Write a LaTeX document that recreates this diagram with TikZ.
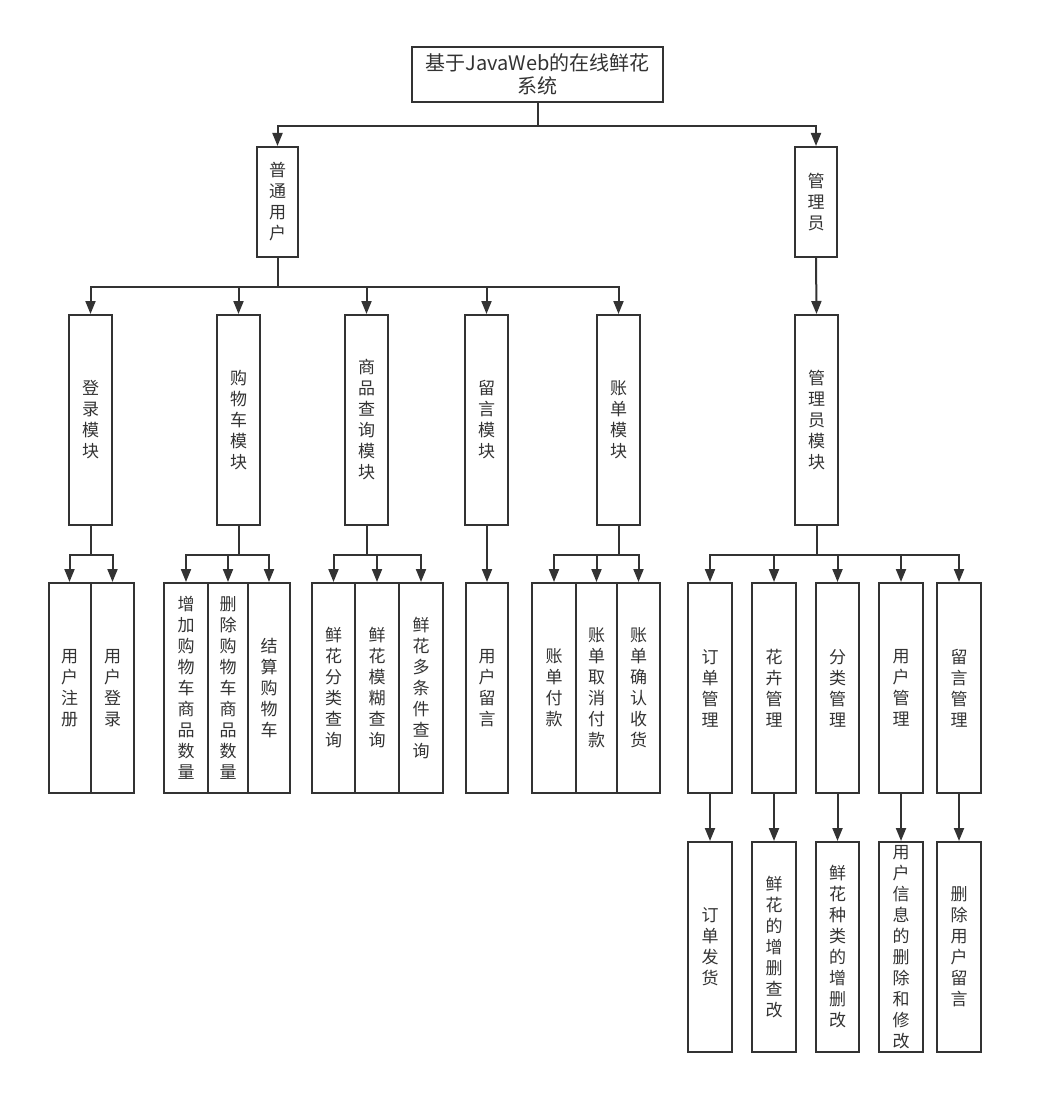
\documentclass[tikz,border=0pt]{standalone}
\usepackage{fontspec}
\setmainfont{Noto Sans CJK SC}
\usetikzlibrary{arrows.meta}
\definecolor{ink}{HTML}{333333}
\tikzset{every node/.style={font=\fontsize{17}{21}\selectfont,text=ink}}
\tikzstyle{blk}=[draw=ink,line width=2pt,inner sep=0pt,align=center,text width=18pt]
\tikzstyle{mod}=[blk,minimum height=210pt]
\tikzstyle{link}=[draw=ink,line width=2pt,-{Triangle[length=13pt,width=10pt]}]

\begin{document}
\begin{tikzpicture}[x=1pt,y=-1pt]
            \useasboundingbox (0,0) rectangle (1041,1115);
            \node [blk,text width=250pt,minimum width=251pt,minimum height=55pt,font=\fontsize{20}{23}\selectfont] (root) at (537.5,74.5) {基于JavaWeb的在线鲜花\\系统};
            \node [blk,minimum width=41pt,minimum height=110pt] (user) at (277.5,202) {普\\通\\用\\户};
            \node [blk,minimum width=42pt,minimum height=110pt] (admin) at (816,202) {管\\理\\员};

            \node [mod,minimum width=43pt] (login) at (90.5,420) {登\\录\\模\\块};
            \node [mod,minimum width=43pt] (cart) at (238.5,420) {购\\物\\车\\模\\块};
            \node [mod,minimum width=43pt] (query) at (366.5,420) {商\\品\\查\\询\\模\\块};
            \node [mod,minimum width=43pt] (msg) at (486.5,420) {留\\言\\模\\块};
            \node [mod,minimum width=43pt] (bill) at (618.5,420) {账\\单\\模\\块};
            \node [mod,minimum width=43pt] (mgr) at (816.5,420) {管\\理\\员\\模\\块};

            \node [mod,minimum width=42pt] (reg) at (69.5,688) {用\\户\\注\\册};
            \node [mod,minimum width=43pt] (signin) at (112.5,688) {用\\户\\登\\录};
            \node [mod,minimum width=44pt] (addc) at (186,688) {增\\加\\购\\物\\车\\商\\品\\数\\量};
            \node [mod,minimum width=40pt] (delc) at (228,688) {删\\除\\购\\物\\车\\商\\品\\数\\量};
            \node [mod,minimum width=42pt] (pay) at (269,688) {结\\算\\购\\物\\车};
            \node [mod,minimum width=43pt] (qcat) at (333.5,688) {鲜\\花\\分\\类\\查\\询};
            \node [mod,minimum width=44pt] (qfuzzy) at (377,688) {鲜\\花\\模\\糊\\查\\询};
            \node [mod,minimum width=44pt] (qmulti) at (421,688) {鲜\\花\\多\\条\\件\\查\\询};
            \node [mod,minimum width=42pt] (leave) at (487,688) {用\\户\\留\\言};
            \node [mod,minimum width=44pt] (bpay) at (554,688) {账\\单\\付\\款};
            \node [mod,minimum width=41pt] (bcancel) at (596.5,688) {账\\单\\取\\消\\付\\款};
            \node [mod,minimum width=43pt] (bconfirm) at (638.5,688) {账\\单\\确\\认\\收\\货};
            \node [mod,minimum width=44pt] (order) at (710,688) {订\\单\\管\\理};
            \node [mod,minimum width=44pt] (flower) at (774,688) {花\\卉\\管\\理};
            \node [mod,minimum width=43pt] (kind) at (837.5,688) {分\\类\\管\\理};
            \node [mod,minimum width=44pt] (umgr) at (901,688) {用\\户\\管\\理};
            \node [mod,minimum width=44pt] (mmgr) at (959,688) {留\\言\\管\\理};

            \node [mod,minimum width=44pt] (ship) at (710,947) {订\\单\\发\\货};
            \node [mod,minimum width=44pt] (fcrud) at (774,947) {鲜\\花\\的\\增\\删\\查\\改};
            \node [mod,minimum width=43pt] (kcrud) at (837.5,947) {鲜\\花\\种\\类\\的\\增\\删\\改};
            \node [mod,minimum width=44pt] (uedit) at (901,947) {用\\户\\信\\息\\的\\删\\除\\和\\修\\改};
            \node [mod,minimum width=44pt] (mdel) at (959,947) {删\\除\\用\\户\\留\\言};

            \foreach \c in {user,admin}
                \draw [link] (root.south) -- ++(0,23) -| (\c.north);
            \foreach \c in {login,cart,query,msg,bill}
                \draw [link] (user.south) -- ++(0,29) -| (\c.north);
            \draw [link] (admin.south) -- (mgr.north);
            \foreach \p/\c in {login/reg,login/signin,cart/addc,cart/delc,cart/pay,query/qcat,query/qfuzzy,query/qmulti,msg/leave,bill/bpay,bill/bcancel,bill/bconfirm,mgr/order,mgr/flower,mgr/kind,mgr/umgr,mgr/mmgr}
                \draw [link] (\p.south) -- ++(0,29) -| (\c.north);
            \foreach \p/\c in {order/ship,flower/fcrud,kind/kcrud,umgr/uedit,mmgr/mdel}
                \draw [link] (\p.south) -- (\c.north);
        \end{tikzpicture}
\end{document}
